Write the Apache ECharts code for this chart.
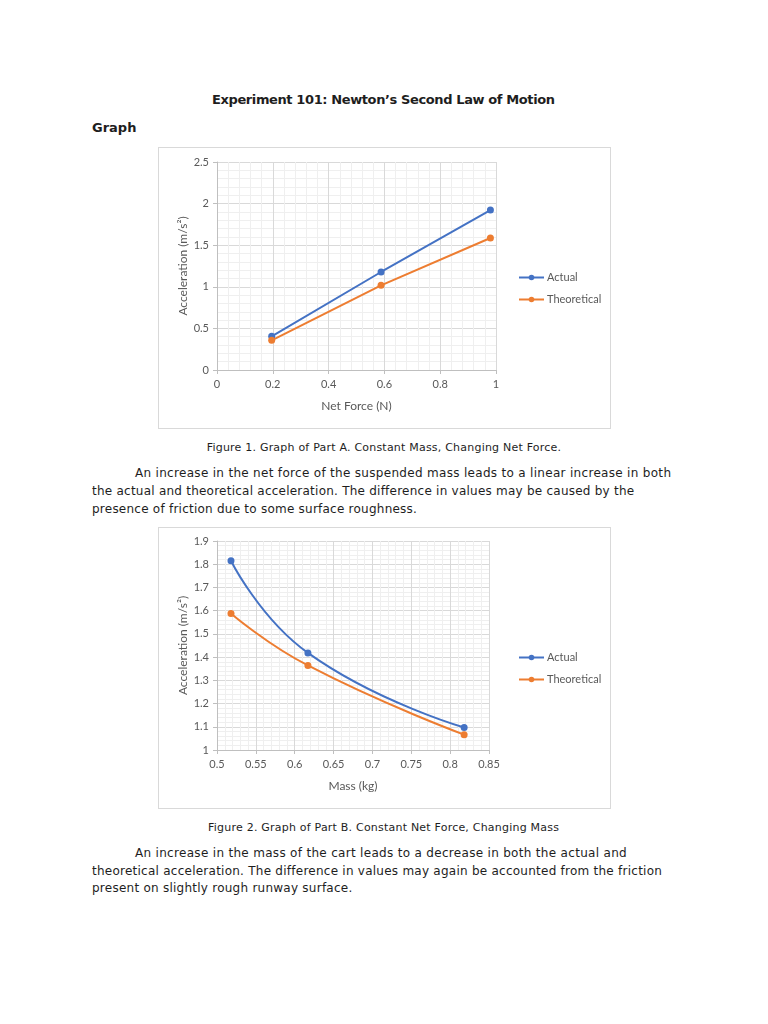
<!DOCTYPE html>
<html><head><meta charset="utf-8">
<script src="https://cdn.jsdelivr.net/npm/echarts@6/dist/echarts.min.js"></script>
<style>
html,body{margin:0;padding:0;background:#fff;width:768px;height:1024px;overflow:hidden;}
.t{position:absolute;white-space:nowrap;font-family:"DejaVu Sans",Verdana,sans-serif;color:#1e1e1e;line-height:16px;height:16px;}
.b{font-weight:bold;}
.frame{position:absolute;border:1px solid #d9d9d9;box-sizing:border-box;}
.chart{position:absolute;}
</style></head><body>
<div class="t b" data-x1="212" data-x2="555" data-cy="100" style="font-size:13px">Experiment 101: Newton’s Second Law of Motion</div>
<div class="t b" data-x1="92" data-cy="127.7" style="font-size:13px">Graph</div>

<div class="frame" style="left:158px;top:147px;width:453px;height:282px;"></div>
<div id="c1" class="chart" style="left:158px;top:147px;width:452px;height:281px;"></div>

<div class="t" id="cap1" data-x1="206.7" data-x2="561" data-cy="448" style="font-size:11px">Figure 1. Graph of Part A. Constant Mass, Changing Net Force.</div>
<div class="t" id="p1a" data-x1="135" data-x2="671" data-cy="473.3" style="font-size:12px">An increase in the net force of the suspended mass leads to a linear increase in both</div>
<div class="t" id="p1b" data-x1="92" data-x2="634" data-cy="491" style="font-size:12px">the actual and theoretical acceleration. The difference in values may be caused by the</div>
<div class="t" data-x1="92" data-ref="p1b" data-cy="508.5" style="font-size:12px">presence of friction due to some surface roughness.</div>

<div class="frame" style="left:158px;top:527px;width:453px;height:282px;"></div>
<div id="c2" class="chart" style="left:158px;top:527px;width:452px;height:281px;"></div>

<div class="t" data-cx="383.5" data-ref="cap1" data-cy="827.5" style="font-size:11px">Figure 2. Graph of Part B. Constant Net Force, Changing Mass</div>
<div class="t" data-x1="135" data-x2="626.7" data-cy="853.3" style="font-size:12px">An increase in the mass of the cart leads to a decrease in both the actual and</div>
<div class="t" id="p2b" data-x1="92" data-x2="661.7" data-cy="870.5" style="font-size:12px">theoretical acceleration. The difference in values may again be accounted from the friction</div>
<div class="t" data-x1="92" data-ref="p2b" data-cy="888" style="font-size:12px">present on slightly rough runway surface.</div>

<script>
// ---- Data: Part A (constant mass, changing net force)
const forceN = [0.196, 0.588, 0.98];
const accelActualA = [0.405, 1.178, 1.923];
const accelTheoA = [0.357, 1.018, 1.587];
// ---- Data: Part B (constant net force, changing mass)
const massKg = [0.518, 0.617, 0.818];
const accelActualB = [1.815, 1.418, 1.097];
const accelTheoB = [1.588, 1.364, 1.066];
const seriesNames = ['Actual', 'Theoretical'];

// ---- text fitting
const spacingOf = {};
document.querySelectorAll('.t').forEach(el => {
  const txt = el.textContent;
  const n = Math.max(1, txt.length - 1);
  el.style.letterSpacing = '0px';
  const w = el.getBoundingClientRect().width;
  let ls = 0;
  if (el.dataset.x2) {
    ls = (parseFloat(el.dataset.x2) - parseFloat(el.dataset.x1) - w) / n;
  } else if (el.dataset.ref) {
    ls = spacingOf[el.dataset.ref] || 0;
  }
  el.style.letterSpacing = ls + 'px';
  if (el.id) spacingOf[el.id] = ls;
  const w2 = w + ls * n;
  let x1 = el.dataset.x1 ? parseFloat(el.dataset.x1) : parseFloat(el.dataset.cx) - w2 / 2;
  el.style.left = x1 + 'px';
  el.style.top = (parseFloat(el.dataset.cy) - 8) + 'px';
});

const FONT = 'Lato';
const LABEL = '#595959';
const AXIS = '#bfbfbf';
const COLORS = ['#4472C4', '#ED7D31'];

function pairs(xs, ys) { return xs.map((x, i) => [x, ys[i]]); }

function makeOption(c) {
  const axisCommon = {
    type: 'value',
    nameLocation: 'middle',
    nameMoveOverlap: false,
    nameTextStyle: { fontFamily: FONT, fontSize: 12, color: LABEL },
    axisLine: { show: true, onZero: false, lineStyle: { color: AXIS, width: 1 } },
    axisTick: { show: true, length: 4, lineStyle: { color: AXIS } },
    axisLabel: { fontFamily: FONT, fontSize: 11, color: LABEL },
    splitLine: { show: true, lineStyle: { color: '#d9d9d9', width: 1 } },
    minorTick: { show: false, splitNumber: 5 },
    minorSplitLine: { show: true, lineStyle: { color: '#efefef', width: 1 } }
  };
  return {
    animation: false,
    grid: c.grid,
    legend: {
      orient: 'vertical', left: 360, top: 125, padding: 0,
      itemWidth: 25, itemHeight: 7, itemGap: 11,
      textStyle: { fontFamily: FONT, fontSize: 11, color: LABEL, padding: [0, 0, 0, -2] },
      data: seriesNames
    },
    xAxis: Object.assign({}, axisCommon, {
      min: c.xMin, max: c.xMax, interval: c.xInt, name: c.xName, nameGap: 30,
      axisLabel: Object.assign({}, axisCommon.axisLabel, { margin: 9 })
    }),
    yAxis: Object.assign({}, axisCommon, {
      min: c.yMin, max: c.yMax, interval: c.yInt, name: 'Acceleration (m/s²)', nameGap: 28,
      axisLabel: Object.assign({}, axisCommon.axisLabel, { margin: 8 })
    }),
    series: [
      { name: seriesNames[0], type: 'line', smooth: c.smooth, data: pairs(c.x, c.actual),
        symbol: 'circle', symbolSize: 7, color: COLORS[0],
        lineStyle: { width: 2, color: COLORS[0] }, itemStyle: { color: COLORS[0] } },
      { name: seriesNames[1], type: 'line', smooth: c.smooth, data: pairs(c.x, c.theo),
        symbol: 'circle', symbolSize: 7, color: COLORS[1],
        lineStyle: { width: 2, color: COLORS[1] }, itemStyle: { color: COLORS[1] } }
    ]
  };
}

const ch1 = echarts.init(document.getElementById('c1'), null, { renderer: 'canvas' });
ch1.setOption(makeOption({
  grid: { left: 59, top: 15, width: 279, height: 208 },
  xMin: 0, xMax: 1, xInt: 0.2, yMin: 0, yMax: 2.5, yInt: 0.5,
  xName: 'Net Force (N)', smooth: false,
  x: forceN, actual: accelActualA, theo: accelTheoA
}));

const ch2 = echarts.init(document.getElementById('c2'), null, { renderer: 'canvas' });
ch2.setOption(makeOption({
  grid: { left: 59, top: 14, width: 272, height: 209 },
  xMin: 0.5, xMax: 0.85, xInt: 0.05, yMin: 1, yMax: 1.9, yInt: 0.1,
  xName: 'Mass (kg)', smooth: true,
  x: massKg, actual: accelActualB, theo: accelTheoB
}));
</script>
</body></html>
